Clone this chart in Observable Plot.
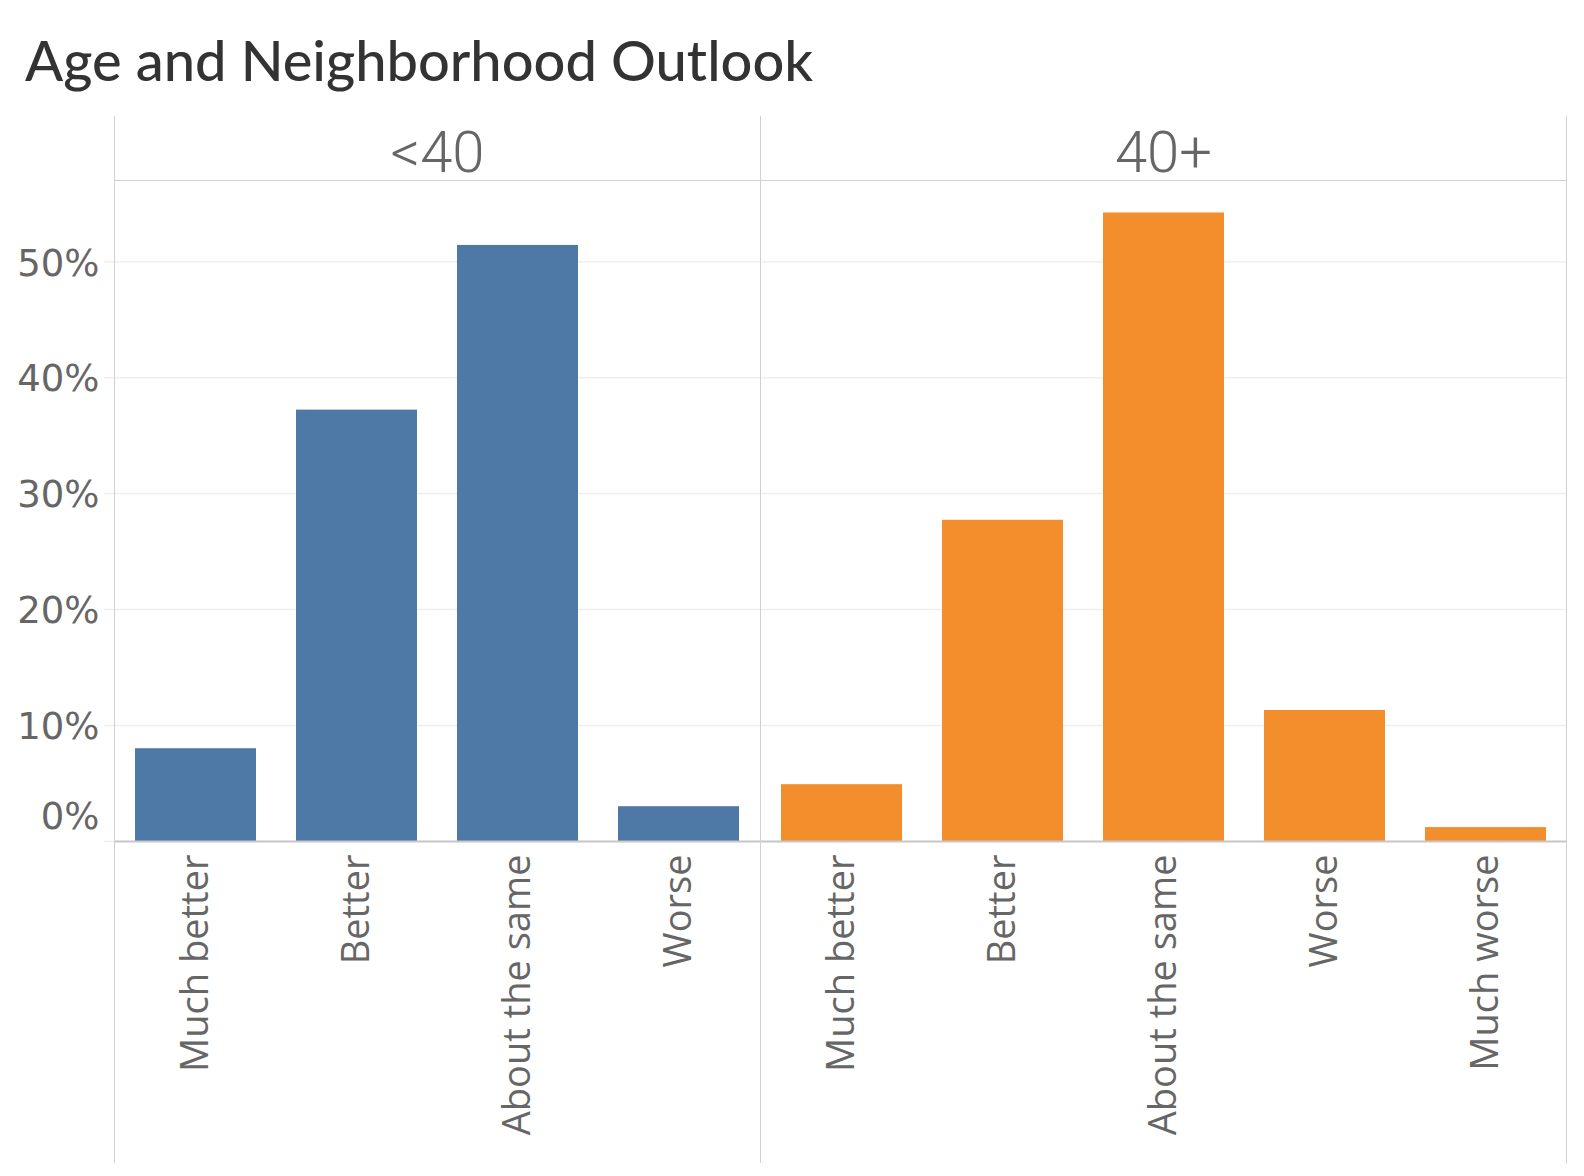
<!DOCTYPE html>
<html>
<head>
<meta charset="utf-8">
<script src="https://cdn.jsdelivr.net/npm/d3@7"></script>
<script src="https://cdn.jsdelivr.net/npm/@observablehq/plot@0.6"></script>
<style>
  html, body { margin: 0; padding: 0; background: #fff; }
  #chart { position: relative; width: 1584px; height: 1176px; overflow: hidden; }
  #title {
    position: absolute; left: 25px; top: 32px;
    font-family: Lato, sans-serif; font-weight: 500; font-size: 56px; line-height: 1;
    color: #333; white-space: nowrap;
  }
  #panels { position: absolute; left: 0; top: 116px; display: flex; align-items: flex-start; }
  #panels svg { display: block; }
</style>
</head>
<body>
<div id="chart">
  <div id="title">Age and Neighborhood Outlook</div>
  <div id="panels"></div>
</div>
<script>
// Share of respondents by expected neighborhood change, split by age group
const ageGroups = ["<40", "40+"];
const groupColors = ["#4e79a7", "#f28e2b"];
const youngerCategories = ["Much better", "Better", "About the same", "Worse"];
const youngerShares = [0.080, 0.372, 0.514, 0.030];
const olderCategories = ["Much better", "Better", "About the same", "Worse", "Much worse"];
const olderShares = [0.049, 0.277, 0.542, 0.113, 0.012];
const shareTicks = [0, 0.1, 0.2, 0.3, 0.4, 0.5];
const shareMax = 0.57;

const lineColor = "#d0d0d0";
const gridColor = "#efefef";
const labelColor = "#666";
const headerTop = 64;      // header band above the plotting area
const labelBand = 321;     // room for the rotated category labels
const panelHeight = 1046;

function panel({group, color, categories, shares, width, marginLeft, marginRight, withAxis, closeRight}) {
  const rows = categories.map((category, i) => ({group, category, share: shares[i]}));
  const marks = [
    Plot.ruleY(shareTicks, {stroke: gridColor, strokeWidth: 1.5, insetLeft: withAxis ? -10 : 0}),
    Plot.barY(rows, {x: "category", y: "share", fill: color}),
    Plot.ruleY([0], {stroke: "#c8c8c8", strokeWidth: 2}),
    Plot.frame({anchor: "top", stroke: lineColor}),
    Plot.frame({anchor: "left", stroke: lineColor, insetTop: -headerTop, insetBottom: -labelBand}),
    Plot.text([group], {
      text: (d) => d, frameAnchor: "top", lineAnchor: "bottom", dy: -9,
      fontFamily: "Roboto", fontWeight: 300, fontSize: 58, fill: labelColor
    }),
    Plot.axisX({
      tickRotate: -90, tickSize: 0, tickPadding: 13, fontSize: 38,
      fill: labelColor, label: null
    })
  ];
  if (withAxis) {
    const yAxis = {
      tickSize: 0, tickPadding: 15, tickFormat: d3.format(".0%"),
      fontFamily: "'DejaVu Sans', sans-serif", fontSize: 37, fill: labelColor, label: null
    };
    marks.push(
      Plot.axisY({...yAxis, ticks: shareTicks.filter((t) => t > 0), dy: 2}),
      Plot.axisY({...yAxis, ticks: shareTicks.filter((t) => t === 0), dy: -24})
    );
  }
  if (closeRight) {
    marks.push(Plot.frame({anchor: "right", stroke: lineColor, insetTop: -headerTop, insetBottom: -labelBand}));
  }
  return Plot.plot({
    width,
    height: panelHeight,
    marginTop: headerTop,
    marginBottom: labelBand,
    marginLeft,
    marginRight,
    style: {fontFamily: "'Open Sans', sans-serif", background: "#fff", overflow: "visible", maxWidth: "none"},
    x: {domain: categories, paddingInner: 0.25, paddingOuter: 0.125, axis: null},
    y: {domain: [0, shareMax], axis: null},
    marks
  });
}

const panels = document.getElementById("panels");
panels.append(
  panel({
    group: ageGroups[0], color: groupColors[0],
    categories: youngerCategories, shares: youngerShares,
    width: 760, marginLeft: 114, marginRight: 0, withAxis: true, closeRight: false
  }),
  panel({
    group: ageGroups[1], color: groupColors[1],
    categories: olderCategories, shares: olderShares,
    width: 807, marginLeft: 0, marginRight: 1, withAxis: false, closeRight: true
  })
);
</script>
</body>
</html>
